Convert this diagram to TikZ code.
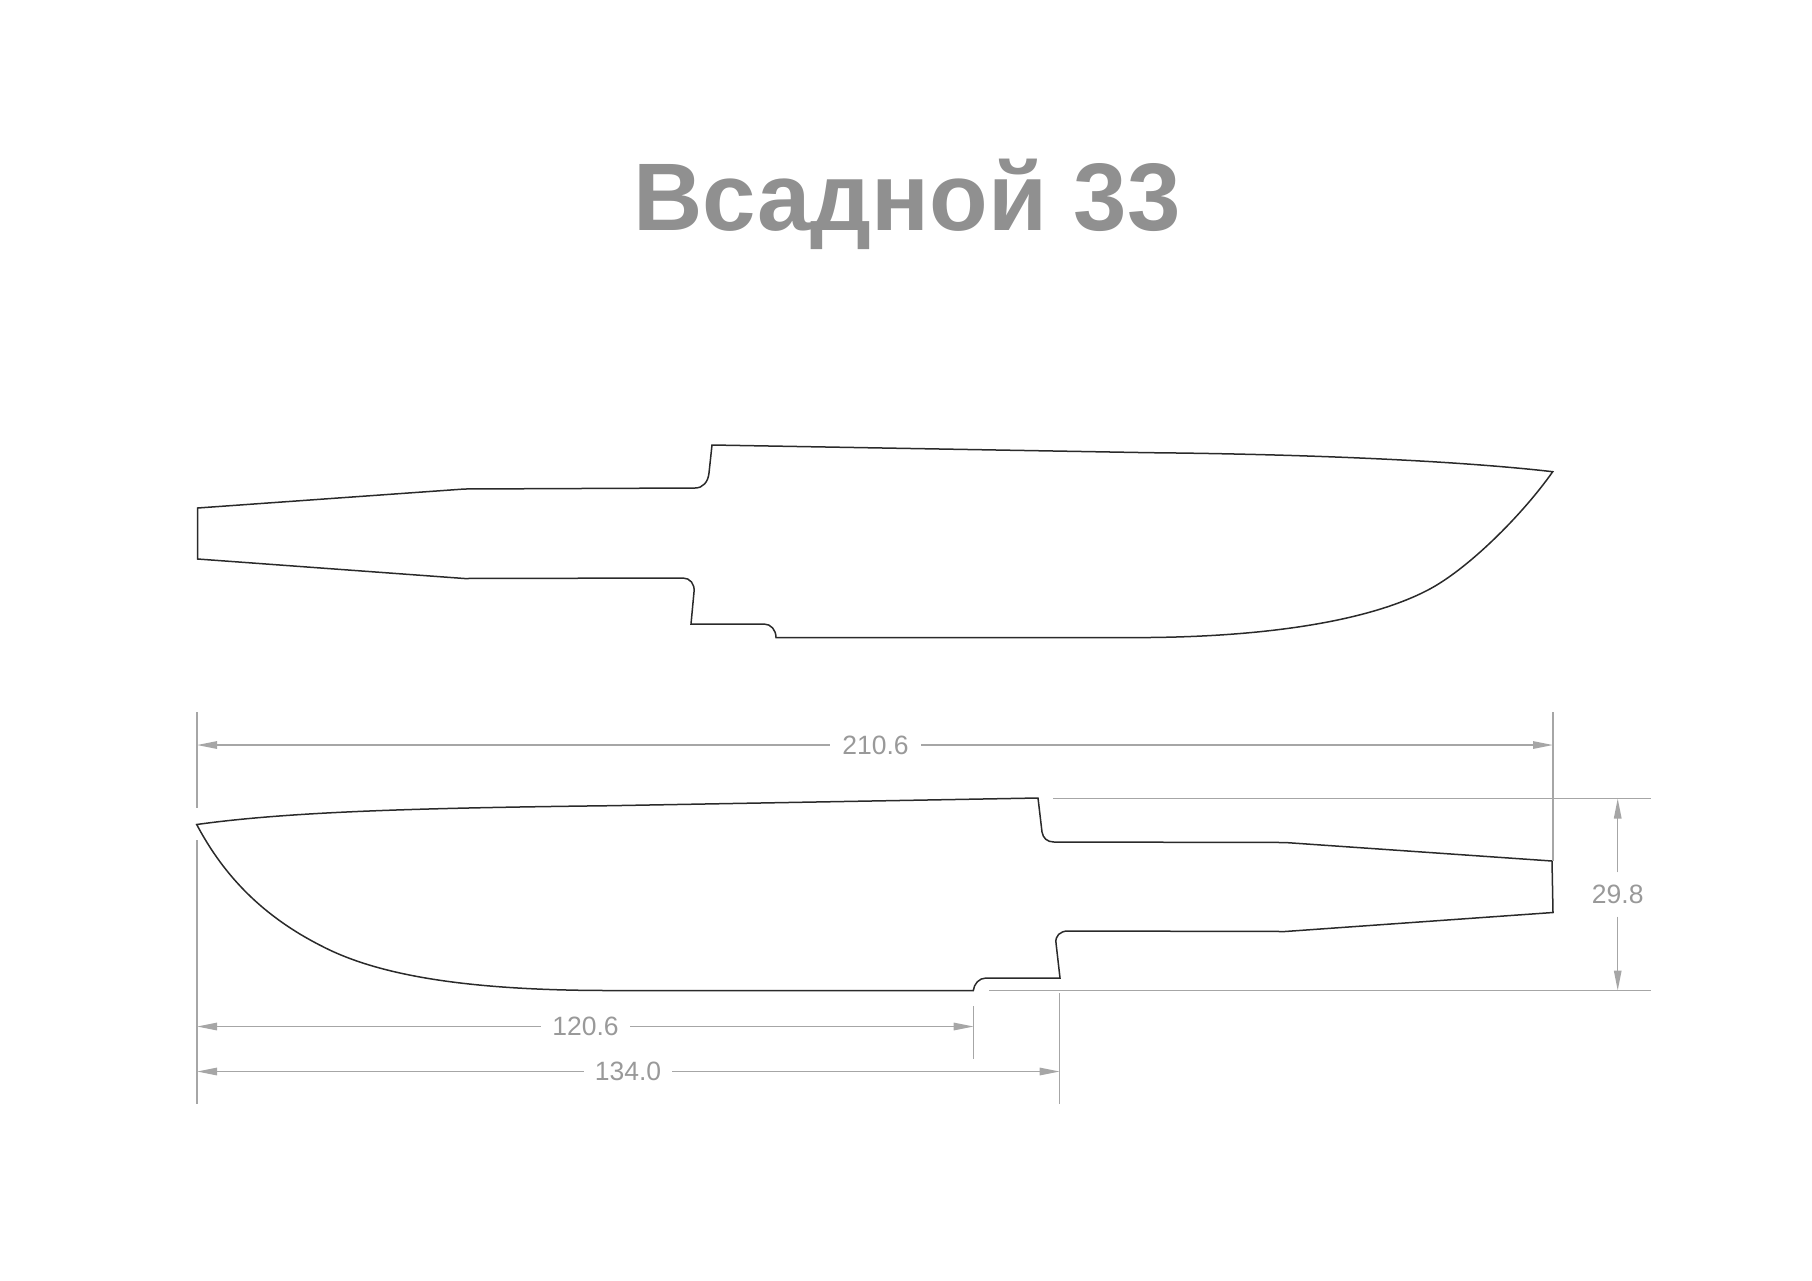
\documentclass[tikz,border=0pt]{standalone}
\usepackage{fontspec}
\setmainfont{Liberation Sans}
\definecolor{dimgray}{HTML}{A6A6A6}
\definecolor{dimtext}{HTML}{999999}
\definecolor{titlegray}{HTML}{909090}
\definecolor{outlinecol}{HTML}{2A2A2A}
\usetikzlibrary{arrows.meta}
\tikzset{
 outline/.style={draw=outlinecol,line width=1.5pt,line join=miter,fill=none},
 extline/.style={draw=dimgray,line width=1.5pt},
 dimline/.style={draw=dimgray,line width=1.4pt,-{Triangle[length=20pt,width=7.5pt,fill=dimgray]}},
 dimlabel/.style={text=dimtext,font=\fontsize{26.5}{26.5}\selectfont,inner sep=0pt,anchor=center},
 titlelabel/.style={text=titlegray,font=\fontsize{96}{96}\selectfont\bfseries,inner sep=0pt,anchor=base}
}
\begin{document}
\begin{tikzpicture}[x=1pt,y=-1pt]
\useasboundingbox (0,0) rectangle (1812,1280);
\node[titlelabel] (title) at (907,230) {Всадной 33};
% upper blank
\draw[outline] (197.6,508) -- (197.6,559) -- (464.5,578.5) -- (683,578)
 .. controls (690,578) and (695,584) .. (694,592)
 -- (691,624) -- (764,624)
 .. controls (771,624) and (776,630) .. (776,637.5)
 -- (1150,637.5)
 .. controls (1250,636.5) and (1360,625) .. (1427,590.5)
 .. controls (1468,569.5) and (1523,514) .. (1552.7,471.7)
 .. controls (1460,461) and (1310,454.2) .. (1150,452.7)
 -- (712,445) -- (709,473)
 .. controls (708,482) and (703,488) .. (695,488)
 -- (464.5,489) -- cycle;
% lower blank
\draw[outline] (1553,912.5) -- (1552,861) -- (1285,842.5) -- (1054,842)
 .. controls (1047,842) and (1043,838) .. (1042,832)
 -- (1038,798) -- (610,805.7)
 .. controls (420,808) and (290,811.5) .. (196.7,824.5)
 .. controls (224,876) and (263,916.7) .. (323,946.7)
 .. controls (380,976) and (470,990.5) .. (610,990.5)
 -- (973.3,990.5)
 .. controls (974,984) and (979,978) .. (986,978)
 -- (1060,978) -- (1056,943)
 .. controls (1055,936) and (1060,931) .. (1068,931)
 -- (1285,931.5) -- cycle;
% extension lines
\coordinate (a1) at (197,712); \coordinate (a2) at (197,808);
\coordinate (b1) at (197,840); \coordinate (b2) at (197,1104);
\coordinate (c1) at (1553,712); \coordinate (c2) at (1553,861);
\coordinate (d1) at (1053,798.5); \coordinate (d2) at (1651,798.5);
\coordinate (e1) at (989,990.5); \coordinate (e2) at (1651,990.5);
\coordinate (f1) at (973.7,1006); \coordinate (f2) at (973.7,1059);
\coordinate (g1) at (1059.7,993); \coordinate (g2) at (1059.7,1104);
\draw[extline] (a1) -- (a2);
\draw[extline] (b1) -- (b2);
\draw[extline] (c1) -- (c2);
\draw[extline] (d1) -- (d2);
\draw[extline] (e1) -- (e2);
\draw[extline] (f1) -- (f2);
\draw[extline] (g1) -- (g2);
% dimension labels
\node[dimlabel,minimum width=91pt] (w) at (875.5,745) {210.6};
\node[dimlabel,minimum width=89pt] (u) at (585.5,1026.5) {120.6};
\node[dimlabel,minimum width=88pt] (v) at (628,1071.5) {134.0};
\node[dimlabel,minimum height=44pt] (h) at (1617.7,894.5) {29.8};
% dimension arrows
\coordinate (wl) at (197,745); \coordinate (wr) at (1553,745);
\coordinate (ul) at (197,1026.5); \coordinate (ur) at (973.7,1026.5);
\coordinate (vl) at (197,1071.5); \coordinate (vr) at (1059.7,1071.5);
\coordinate (ht) at (1617.7,798.5); \coordinate (hb) at (1617.7,990.5);
\draw[dimline] (w) -- (wl);
\draw[dimline] (w) -- (wr);
\draw[dimline] (u) -- (ul);
\draw[dimline] (u) -- (ur);
\draw[dimline] (v) -- (vl);
\draw[dimline] (v) -- (vr);
\draw[dimline] (h) -- (ht);
\draw[dimline] (h) -- (hb);
\end{tikzpicture}
\end{document}
